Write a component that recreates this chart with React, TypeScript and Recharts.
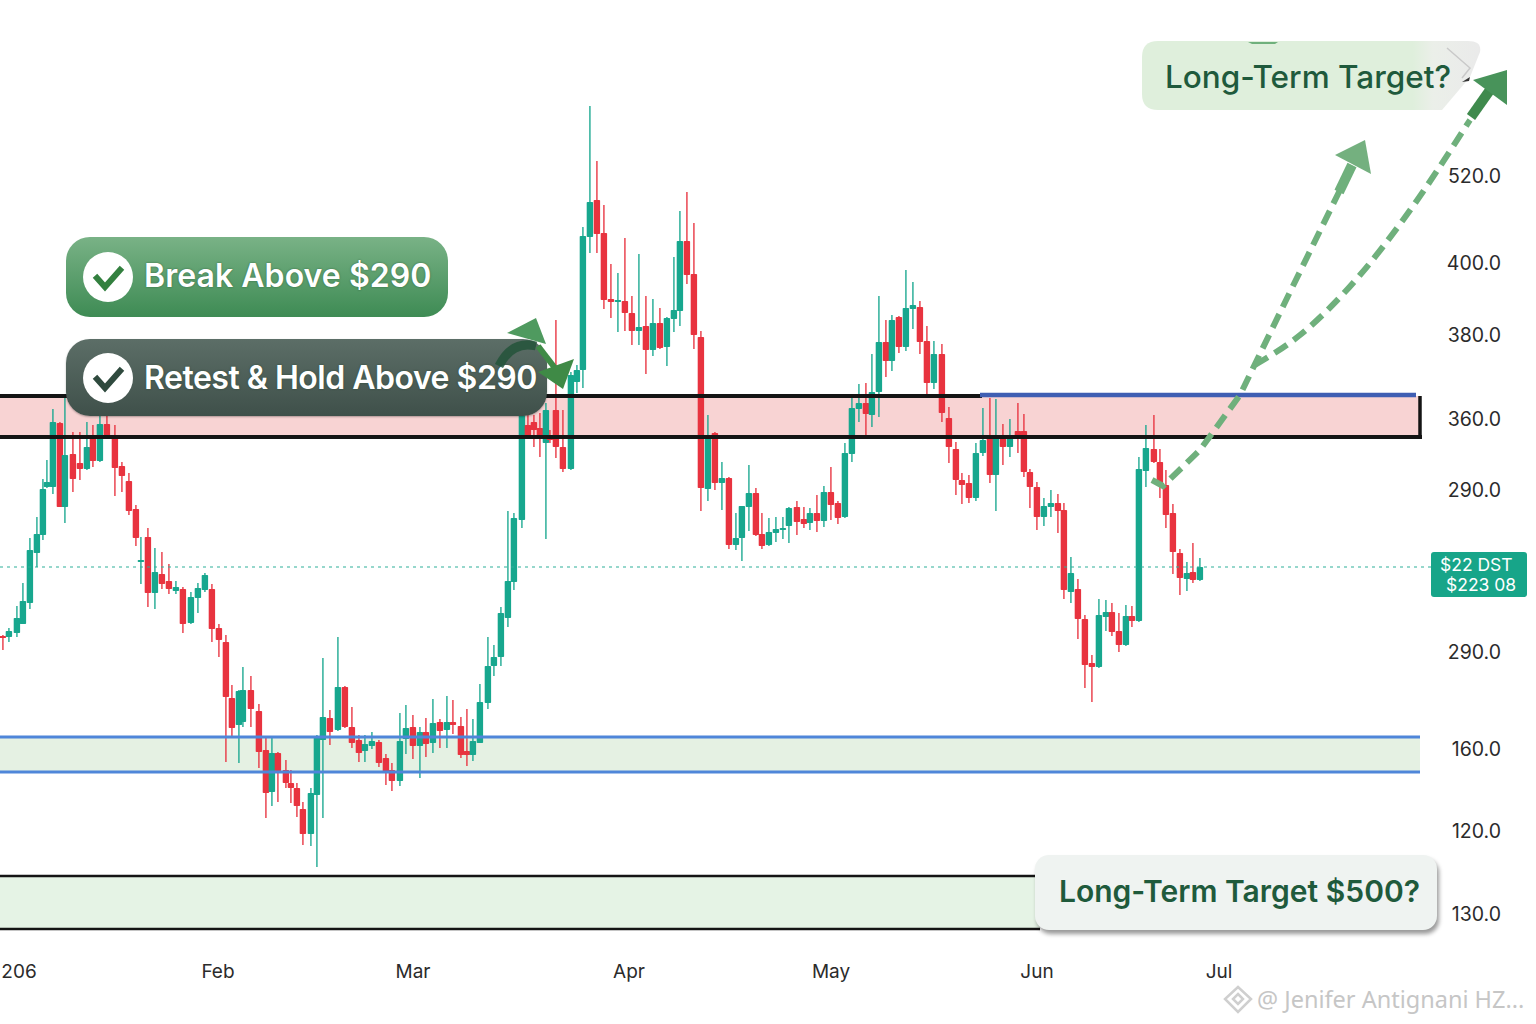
import React from "react";
import { ComposedChart, Bar, Line, XAxis, YAxis, ReferenceArea, ReferenceLine } from "recharts";

const times = [3,9,17,23,30,37,43,47,53,60,65,73,80,87,93,100,107,115,122,129,136,141,148,155,162,169,176,183,191,198,205,212,219,226,232,239,243,251,259,266,272,278,286,291,297,303,311,317,323,330,338,345,352,359,365,372,379,386,392,400,406,413,420,426,433,440,447,453,461,467,473,480,488,494,501,508,514,522,528,534,540,546,550,556,563,571,577,583,590,597,604,611,618,625,632,639,646,653,660,667,674,680,687,694,701,708,715,722,729,736,742,749,756,762,769,776,783,789,797,804,810,817,824,831,838,845,852,859,866,872,879,886,892,899,906,913,920,927,934,942,949,956,962,969,976,983,990,996,1003,1010,1018,1024,1030,1037,1044,1051,1058,1064,1071,1078,1085,1092,1099,1106,1112,1119,1126,1132,1139,1146,1154,1160,1166,1173,1180,1187,1193,1200];
const opens = [388,387,391,400,421,471,489,537,537,601,517,570,561,555,587,563,600,589,558,543,515,463,487,431,450,443,433,435,401,426,434,435,396,382,326,299,302,334,313,274,232,271,254,241,236,215,190,229,284,306,294,337,297,284,273,278,282,266,254,243,285,297,278,292,281,302,294,302,298,273,269,281,321,358,367,406,442,504,599,602,596,581,589,614,577,555,642,654,787,824,791,725,722,723,711,693,698,674,701,677,705,713,783,750,687,535,591,541,546,479,486,517,531,490,479,491,494,498,517,505,501,511,503,532,521,507,570,615,621,609,632,682,663,707,677,715,717,683,641,670,606,575,544,541,526,571,589,549,589,577,593,593,552,537,507,517,521,514,432,435,405,361,357,407,412,393,379,408,403,553,575,562,539,511,471,445,452,444];
const highs = [389,396,418,441,486,507,545,564,615,602,626,592,592,602,599,609,609,599,562,551,519,487,496,476,472,460,443,437,432,441,451,440,400,389,339,334,357,348,320,287,287,272,264,254,241,222,236,289,366,314,387,338,317,289,289,292,284,270,261,311,319,309,297,306,325,305,328,324,307,315,305,340,387,379,417,513,511,614,616,609,611,621,594,704,614,652,659,797,918,863,819,760,751,786,728,770,728,725,716,707,767,813,832,801,693,609,592,562,547,511,518,559,536,511,506,507,507,517,523,517,516,529,538,557,523,581,629,640,641,670,728,704,709,708,754,742,723,698,683,680,617,582,551,549,581,616,626,625,600,605,621,610,555,542,526,534,530,521,467,445,409,369,425,424,421,411,419,418,567,599,609,575,554,520,475,462,481,466];
const lows = [374,382,387,400,415,457,484,536,530,517,501,532,544,554,557,562,587,528,532,509,478,440,417,415,435,430,430,391,400,411,432,382,367,262,287,261,297,297,256,206,218,222,236,221,207,179,178,157,206,279,293,296,276,262,262,275,257,239,233,238,270,265,246,267,271,276,276,290,266,258,263,281,315,348,358,397,434,496,587,577,567,485,581,566,552,554,631,636,771,771,715,706,692,693,679,679,650,668,675,658,692,698,740,675,513,523,534,514,475,474,463,493,488,475,478,482,485,481,489,496,494,492,497,504,500,506,562,602,585,597,607,647,653,671,673,695,670,628,635,602,561,529,520,521,523,568,541,513,559,567,571,547,516,494,498,507,491,425,421,385,336,322,356,393,388,372,378,397,402,537,561,526,496,450,429,433,441,443];
const closes = [386,393,406,423,474,490,535,542,602,517,569,545,555,577,563,600,588,556,548,513,486,464,431,452,440,435,437,400,427,436,449,395,384,327,296,333,334,315,272,231,271,253,241,236,218,190,231,287,307,292,337,297,281,271,280,283,261,252,243,283,296,278,292,280,301,293,302,299,269,269,283,322,358,367,411,443,506,609,587,594,587,614,584,577,555,649,654,788,822,790,724,722,724,711,693,697,674,701,676,706,714,783,749,689,536,588,541,546,479,486,518,531,489,478,492,495,496,516,502,500,511,503,532,519,506,571,616,621,610,632,682,663,704,677,716,719,682,641,670,611,577,544,539,526,571,584,549,588,577,586,587,552,537,507,518,521,513,434,451,405,359,357,409,412,392,379,408,403,555,576,562,539,509,472,446,451,444,457];

const yTickLevels = [848,761,689,605,534,372,275,193,110];
const yTickLabels = ["520.0","400.0","380.0","360.0","290.0","290.0","160.0","120.0","130.0"];
const xTickTimes = [19,218,413,629,831,1037,1219];
const xTickLabels = ["206","Feb","Mar","Apr","May","Jun","Jul"];

const pathATimes = [1152,1163,1200,1240,1290,1340];
const pathALevels = [544,538,574,629,732,834];
const pathBTimes = [1255,1300,1360,1403,1470];
const pathBLevels = [659,689,749,804,904];

const UP = "#17a78e";
const DOWN = "#e8333f";

const candles = times.map((t, i) => ({ t, open: opens[i], high: highs[i], low: lows[i], close: closes[i] }));
const pathA = pathATimes.map((t, i) => ({ t, v: pathALevels[i] }));
const pathB = pathBTimes.map((t, i) => ({ t, v: pathBLevels[i] }));

function Candle(props: any) {
  const { x, y, width, height, payload } = props;
  const { open, high, low, close } = payload;
  const unit = height / Math.max(high - low, 1);
  const top = y + (high - Math.max(open, close)) * unit;
  const bot = y + (high - Math.min(open, close)) * unit;
  const color = close >= open ? UP : DOWN;
  const cx = x + width / 2;
  return (
    <g>
      <rect x={cx - 0.8} y={y} width={1.6} height={height} fill={color} opacity={0.85} />
      <rect x={cx - 3.2} y={top} width={6.4} height={Math.max(bot - top, 2)} rx={0.8} fill={color} />
    </g>
  );
}

const Check = ({ color }: { color: string }) => (
  <svg width="52" height="52" viewBox="0 0 52 52" style={{ position: "absolute", left: 16, top: "50%", marginTop: -26 }}>
    <circle cx="26" cy="26" r="25" fill="#fff" />
    <path d="M15 27 L23 36 L38 19" fill="none" stroke={color} strokeWidth="6" strokeLinecap="square" />
  </svg>
);

const font = "Inter, 'Noto Sans', sans-serif";
const pill: React.CSSProperties = {
  position: "absolute", left: 66, borderRadius: 24, color: "#fff", fontFamily: font,
  fontWeight: 600, fontSize: 32, whiteSpace: "nowrap", textShadow: "0 0 2px rgba(20,60,30,.6)",
};

export default function App() {
  return (
    <div style={{ position: "absolute", left: 0, top: 0, width: 1536, height: 1024, overflow: "hidden", background: "#fff" }}>
      <ComposedChart width={1536} height={1024} data={candles} margin={{ top: 0, right: 0, bottom: 0, left: 0 }}>
        <XAxis
          dataKey="t" type="number" domain={[0, 1536]} ticks={xTickTimes} interval={0} mirror
          axisLine={false} tickLine={false} tickMargin={40}
          tick={{ fill: "#2b2b2b", fontSize: 19, fontFamily: font }}
          tickFormatter={(v: number) => xTickLabels[xTickTimes.indexOf(v)]}
        />
        <YAxis
          type="number" domain={[0, 1024]} orientation="right" ticks={yTickLevels} interval={0} mirror
          axisLine={false} tickLine={false} tickMargin={29}
          tick={{ fill: "#2b2b2b", fontSize: 19.5, fontFamily: font }}
          tickFormatter={(v: number) => yTickLabels[yTickLevels.indexOf(v)]}
        />
        <ReferenceArea x1={0} x2={1420} y1={587} y2={628} fill="#f8d3d3" fillOpacity={1} stroke="none" />
        <ReferenceArea x1={0} x2={1420} y1={252} y2={287} fill="#e5f1e3" fillOpacity={1} stroke="none" />
        <ReferenceArea x1={0} x2={1040} y1={95} y2={148} fill="#e5f3e5" fillOpacity={1} stroke="none" />
        <ReferenceLine segment={[{ x: 0, y: 628 }, { x: 982, y: 628 }]} stroke="#141414" strokeWidth={4} />
        <ReferenceLine segment={[{ x: 980, y: 629 }, { x: 1416, y: 629 }]} stroke="#3f5eb3" strokeWidth={4.5} />
        <ReferenceLine segment={[{ x: 0, y: 587 }, { x: 1422, y: 587 }]} stroke="#141414" strokeWidth={4} />
        <ReferenceLine segment={[{ x: 1420, y: 628 }, { x: 1420, y: 586 }]} stroke="#141414" strokeWidth={3.5} />
        <ReferenceLine segment={[{ x: 0, y: 287 }, { x: 1420, y: 287 }]} stroke="#4f86d9" strokeWidth={3} />
        <ReferenceLine segment={[{ x: 0, y: 252 }, { x: 1420, y: 252 }]} stroke="#4f86d9" strokeWidth={3} />
        <ReferenceLine segment={[{ x: 0, y: 148 }, { x: 1040, y: 148 }]} stroke="#141414" strokeWidth={2.5} />
        <ReferenceLine segment={[{ x: 0, y: 95 }, { x: 1040, y: 95 }]} stroke="#141414" strokeWidth={2.5} />
        <ReferenceLine segment={[{ x: 0, y: 457 }, { x: 1432, y: 457 }]} stroke="#2fb09a" strokeWidth={1.2} strokeDasharray="3 4" />
        <Bar dataKey={(d: any) => [d.low, d.high]} barSize={6} shape={Candle} isAnimationActive={false} />
        <Line data={pathA} dataKey="v" type="linear" stroke="#6fb07c" strokeWidth={6} strokeDasharray="15 8" dot={false} activeDot={false} isAnimationActive={false} />
        <Line data={pathB} dataKey="v" type="monotone" stroke="#6fb07c" strokeWidth={6} strokeDasharray="15 8" dot={false} activeDot={false} isAnimationActive={false} />
      </ComposedChart>

      <div style={{ ...pill, top: 237, width: 382, height: 80, lineHeight: "78px", background: "linear-gradient(#79b286,#3e8b54)" }}>
        <Check color="#33803f" />
        <span style={{ position: "absolute", left: 78, letterSpacing: 0.05 }}>Break Above $290</span>
      </div>
      <div style={{ ...pill, top: 339, width: 481, height: 77, lineHeight: "77px", background: "linear-gradient(#5c6e67,#3f504a)", boxShadow: "0 1px 2px rgba(0,0,0,.3)" }}>
        <Check color="#2f4a3e" />
        <span style={{ position: "absolute", left: 78, letterSpacing: -0.5 }}>Retest &amp; Hold Above $290</span>
      </div>

      <svg width="1536" height="1024" style={{ position: "absolute", left: 0, top: 0, pointerEvents: "none" }}>
        <defs>
          <linearGradient id="tag" x1="0" x2="1" y1="0" y2="0">
            <stop offset="0.8" stopColor="#dfefdc" />
            <stop offset="0.86" stopColor="#ebefe9" />
            <stop offset="1" stopColor="#eaeaea" />
          </linearGradient>
        </defs>
        <path d="M1158 41 H1468 Q1482 41 1480 52 L1470 77 L1442 110 H1158 Q1142 110 1142 94 V57 Q1142 41 1158 41 Z" fill="url(#tag)" />
        <path d="M1447 48 L1470 68 L1462 78" fill="none" stroke="#c9c9c9" strokeWidth="1.5" />
        <path d="M1462 82 L1470 77 L1469 81 Z" fill="#333" />
        <path d="M1248 42 H1278 L1275 44 H1252 Z" fill="#6fb07c" />
        <path d="M1339 192 L1352 165" stroke="#6fb07c" strokeWidth="10" />
        <polygon points="1335,155 1365,140 1371,174" fill="#74b07f" />
        <path d="M1471 117 L1490 90" stroke="#3f8a4d" strokeWidth="10" />
        <polygon points="1473,80 1507,70 1507,105" fill="#48935a" />
        <polygon points="507,333 536,318 546,344" fill="#4f9a5f" />
        <path d="M499 366 Q512 340 536 346" fill="none" stroke="#23533a" strokeWidth="9" opacity="0.85" />
        <path d="M538 346 L558 372" stroke="#3f8a46" strokeWidth="6" />
        <polygon points="538,372 574,359 563,389" fill="#3f8a46" />
        <g fill="none" stroke="#cfcfcf" strokeWidth="2.5">
          <path d="M1238 987 L1251 999 L1238 1012 L1225 999 Z" />
          <path d="M1238 994 L1243 999 L1238 1004 L1233 999 Z" />
        </g>
        <text x="1257" y="1008" fontFamily="'Noto Sans', sans-serif" fontSize="23.5" fill="#c6c6c6">@ Jenifer Antignani HZ...</text>
      </svg>

      <div style={{ position: "absolute", left: 1165, top: 57, fontFamily: font, fontWeight: 500, fontSize: 31.5, lineHeight: "40px", color: "#1f5a3c", whiteSpace: "nowrap" }}>Long-Term Target?</div>
      <div style={{ position: "absolute", left: 1035, top: 855, width: 402, height: 75, borderRadius: 14, background: "#eff3f1", boxShadow: "2px 4px 4px rgba(0,0,0,.4)", fontFamily: font, fontWeight: 600, fontSize: 30, lineHeight: "73px", color: "#1f5a3c", whiteSpace: "nowrap" }}>
        <span style={{ position: "absolute", left: 24 }}>Long-Term Target $500?</span>
      </div>
      <div style={{ position: "absolute", left: 1431, top: 552, width: 96, height: 45, borderRadius: 3, background: "#17a589", color: "#fff", fontFamily: font, fontSize: 17.5, lineHeight: "20px", whiteSpace: "nowrap" }}>
        <div style={{ position: "absolute", left: 9, top: 3 }}>$22 DST</div>
        <div style={{ position: "absolute", left: 15, top: 23 }}>$223 08</div>
      </div>
    </div>
  );
}
